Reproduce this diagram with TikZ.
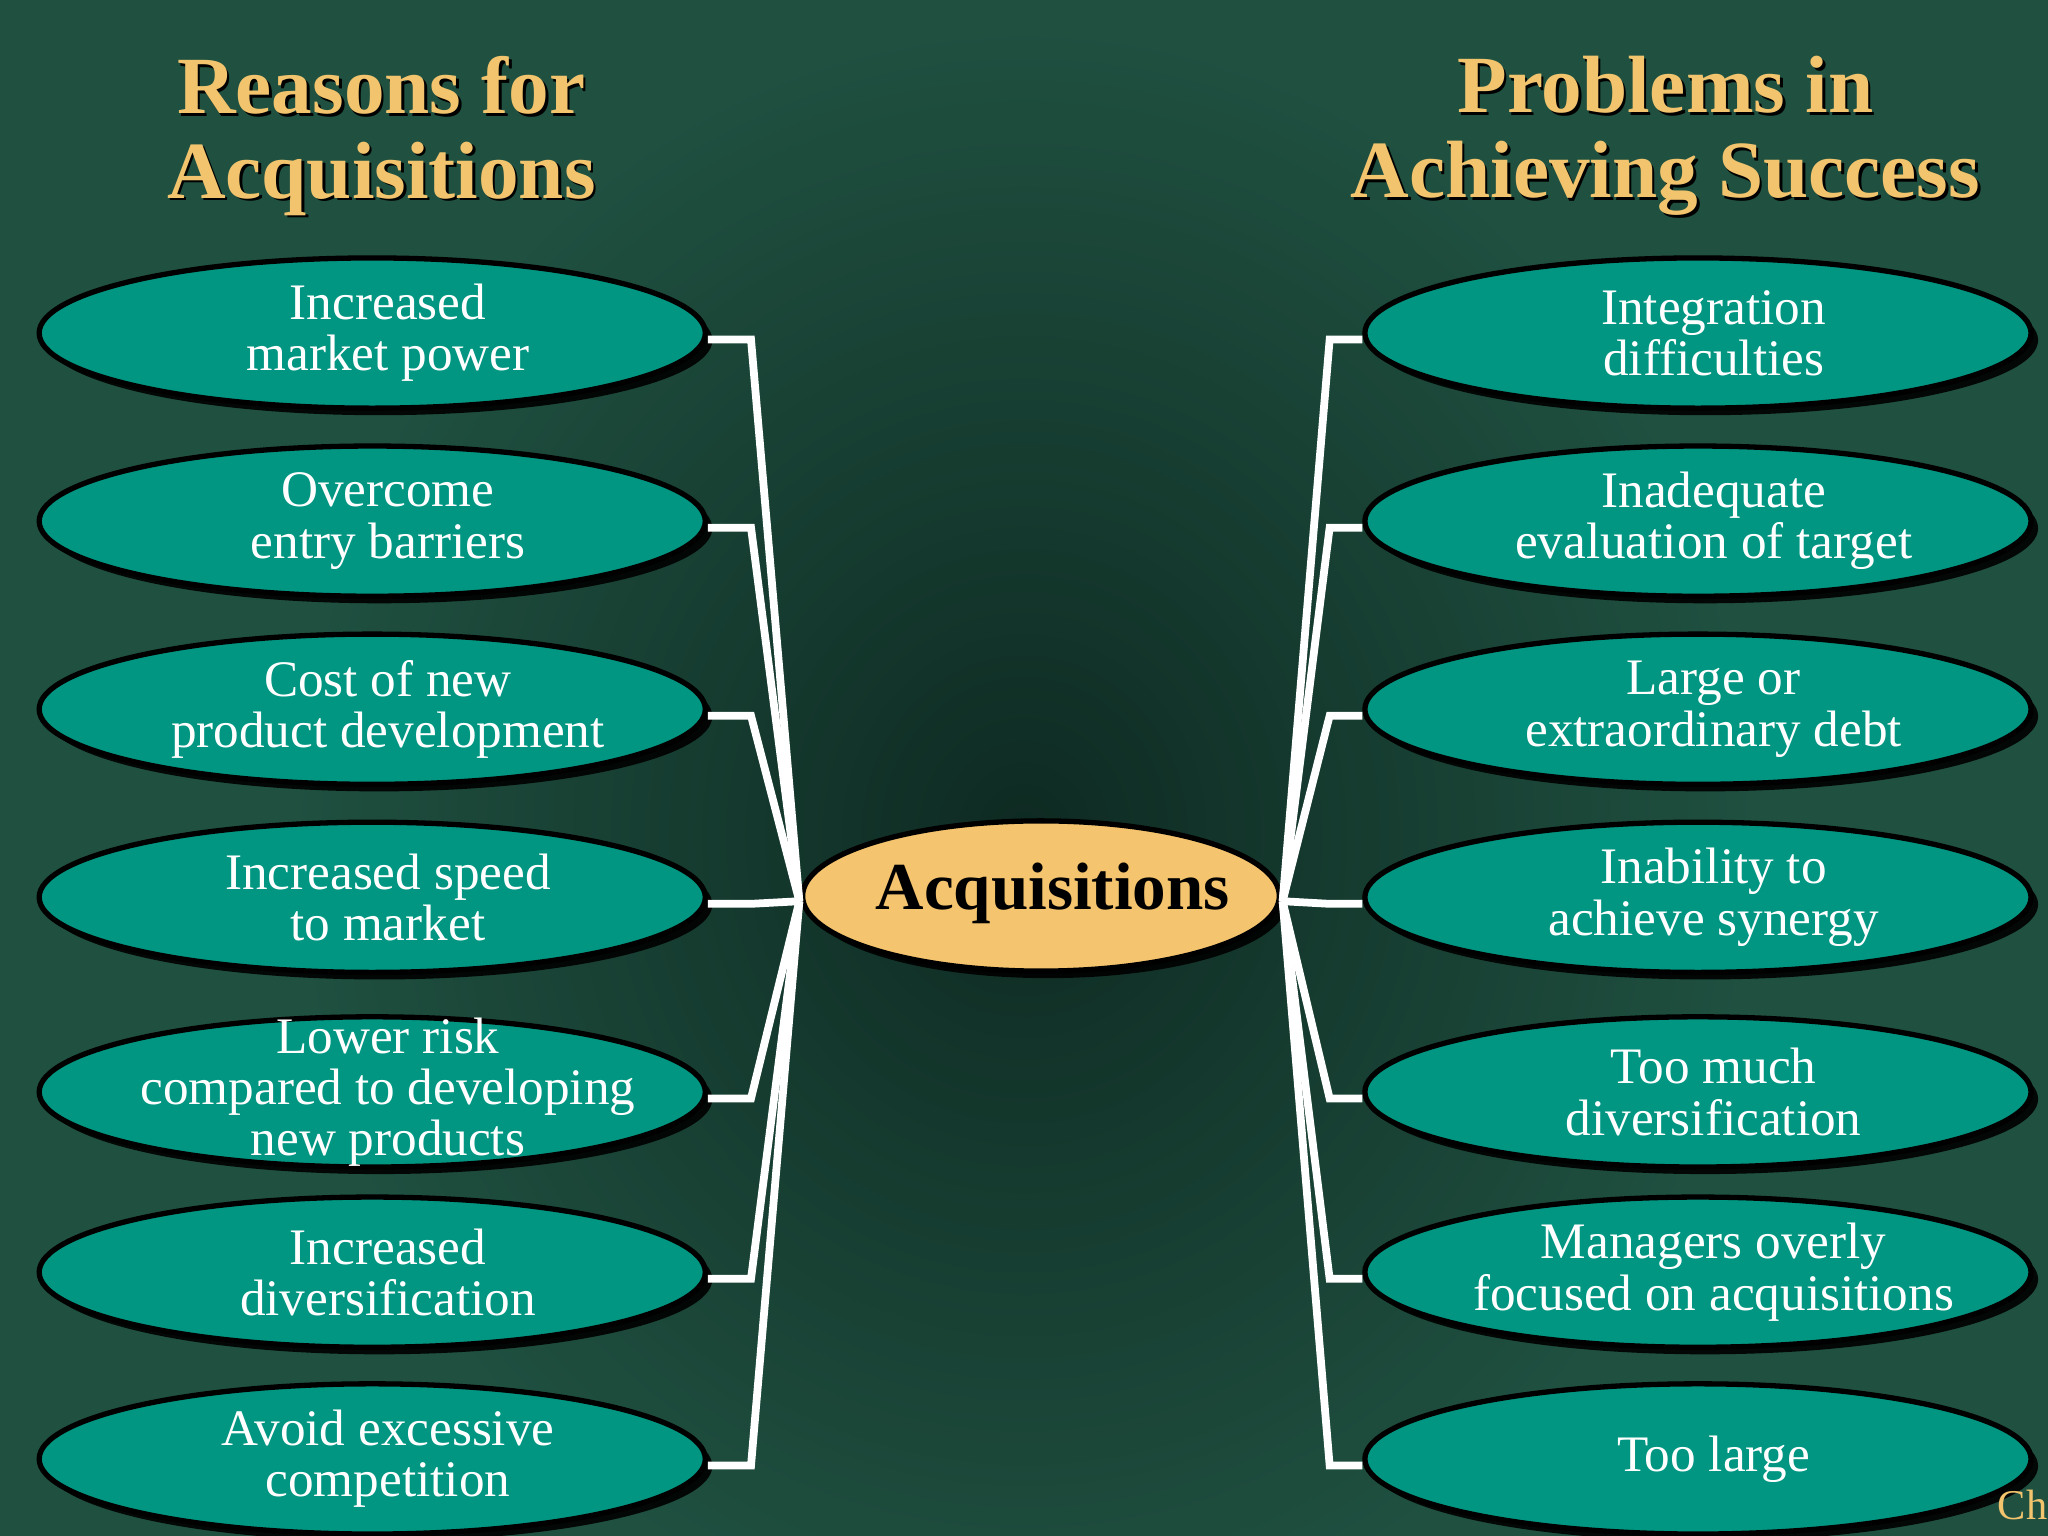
\documentclass[tikz,border=0pt]{standalone}
\usepackage{fontspec}
\setmainfont{Liberation Serif}
\usetikzlibrary{shapes.geometric,shadows}
\definecolor{bg}{HTML}{1F5040}
\definecolor{bgc}{HTML}{0E2A22}
\definecolor{gold}{HTML}{F2C46E}
\definecolor{teal}{HTML}{009682}
\definecolor{peach}{HTML}{F5C46E}
\tikzset{
  oval/.style={ellipse,draw=black,line width=1.5pt,fill=teal,minimum width=510*0.013cm,minimum height=115*0.013cm,
    drop shadow={shadow xshift=2pt,shadow yshift=-2pt,opacity=0.9,fill=black},inner sep=0pt},
  ovaltext/.style={text=white,font=\fontsize{14.5}{14.5}\selectfont,align=center,inner sep=0pt},
  conn/.style={draw=white,line width=2.2pt},
  title/.style={text=gold,font=\bfseries\fontsize{23}{24}\selectfont,align=center}
}
\begin{document}
\begin{tikzpicture}[x=0.013cm,y=-0.013cm]
\clip (0,0) rectangle (1568,1176);
\fill[bg] (0,0) rectangle (1568,1176);
\shade[inner color=bgc,outer color=bg] (784,640) ellipse (560 and 620);
% titles
\node[title,text=black] at (294,106) {Reasons for\\Acquisitions};
\node[title] (t1) at (292,104) {Reasons for\\Acquisitions};
\node[title,text=black] at (1277,106) {Problems in\\Achieving Success};
\node[title] (t2) at (1275,104) {Problems in\\Achieving Success};
% center
\node[ellipse,draw=black,line width=1.5pt,fill=peach,minimum width=365*0.013cm,minimum height=115*0.013cm,inner sep=0pt,
  drop shadow={shadow xshift=2pt,shadow yshift=-2pt,opacity=0.9,fill=black}] (c) at (797,686) {};
\node[font=\bfseries\fontsize{19}{20}\selectfont] (ct) at (806,684) {Acquisitions};
\coordinate (cl) at (612,690);
\coordinate (cr) at (982,690);
% left
\foreach \i/\y/\t in {1/255/{Increased\\market power},2/399/{Overcome\\entry barriers},3/543/{Cost of new\\product development},4/687/{Increased speed\\to market},5/836/{Lower risk\\compared to developing\\new products},6/974/{Increased\\diversification},7/1117/{Avoid excessive\\competition}}{
  \node[oval] (l\i) at (285,\y) {};
  \node[ovaltext] (lt\i) at (297,\y) {\t};
  \coordinate (lk\i) at (575,\y+5);
  \draw[conn] (l\i.east |- lk\i) -- (lk\i) -- (cl);
}
\foreach \i/\y/\t in {1/255/{Integration\\difficulties},2/399/{Inadequate\\evaluation of target},3/543/{Large or\\extraordinary debt},4/687/{Inability to\\achieve synergy},5/836/{Too much\\diversification},6/974/{Managers overly\\focused on acquisitions},7/1117/{Too large}}{
  \node[oval] (r\i) at (1300,\y) {};
  \node[ovaltext] (rt\i) at (1312,\y) {\t};
  \coordinate (rk\i) at (1018,\y+5);
  \draw[conn] (r\i.west |- rk\i) -- (rk\i) -- (cr);
}
\node[text=gold,anchor=west,font=\fontsize{12}{12}\selectfont] (ch) at (1520,1152) {Ch7};
\end{tikzpicture}
\end{document}
